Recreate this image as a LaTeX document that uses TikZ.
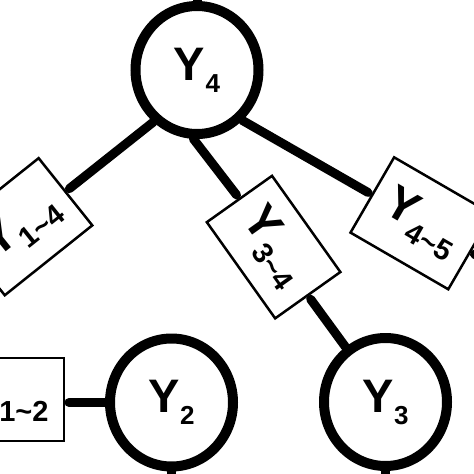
\documentclass[tikz,border=0pt]{standalone}
\usepackage{fontspec}
\setmainfont{Liberation Sans}
\usetikzlibrary{shapes.geometric}
\pgfdeclarelayer{bg}
\pgfsetlayers{bg,main}
\newcommand\ysub[2][26]{{\bfseries\fontsize{47}{47}\selectfont Y\kern0.5pt\raisebox{-12pt}{\fontsize{#1}{#1}\selectfont #2}}}
\begin{document}
\begin{tikzpicture}[x=1pt,y=-1pt,
  circ/.style={ellipse,draw,line width=10pt,minimum width=123pt,minimum height=128pt,inner sep=0pt,fill=white},
  bx/.style={rectangle,draw,line width=2.5pt,fill=white,inner sep=0pt,outer sep=5pt},
  conn/.style={line width=9pt,line cap=round}]
\useasboundingbox (0,0) rectangle (474,474);
\clip (0,0) rectangle (474,474);
\node[circ] (Y4) at (197,70) {\ysub{4}};
\node[circ] (Y2) at (171.5,402.5) {\ysub{2}};
\node[circ] (Y3) at (385.5,402) {\ysub{3}};
\node[bx,minimum width=118pt,minimum height=80pt,rotate=-54.6] (b34) at (273.6,247.1) {\ysub[29]{3\textasciitilde4}};
\node[bx,minimum width=113pt,minimum height=87pt,rotate=-30.1] (b45) at (421.2,223.3) {\ysub[29]{4\textasciitilde5}};
\node[bx,minimum width=112pt,minimum height=86pt,rotate=38.6] (b14) at (21.7,226.7) {\ysub[29]{1\textasciitilde4}};
\node[bx,minimum width=112pt,minimum height=83pt] (b12) at (8,399.3) {\ysub[29]{1\textasciitilde2}};
\coordinate (t4) at (197,-40);
\coordinate (t2) at (171.5,520);
\coordinate (t3) at (385.5,520);
\coordinate (t5) at (513,276.7);
\begin{pgfonlayer}{bg}
\draw[conn] (Y4.-130) -- (b14.east);
\draw[conn] (Y4.-93) -- (b34.west);
\draw[conn] (Y4.-48) -- (b45.west);
\draw[conn] (b34.east) -- (Y3.126);
\draw[conn] (b12.east |- Y2.west) -- (Y2.west);
\draw[conn] (Y4.north) -- (t4);
\draw[conn] (Y2.south) -- (t2);
\draw[conn] (Y3.south) -- (t3);
\draw[conn] (b45.east) -- (t5);
\end{pgfonlayer}
\end{tikzpicture}
\end{document}
